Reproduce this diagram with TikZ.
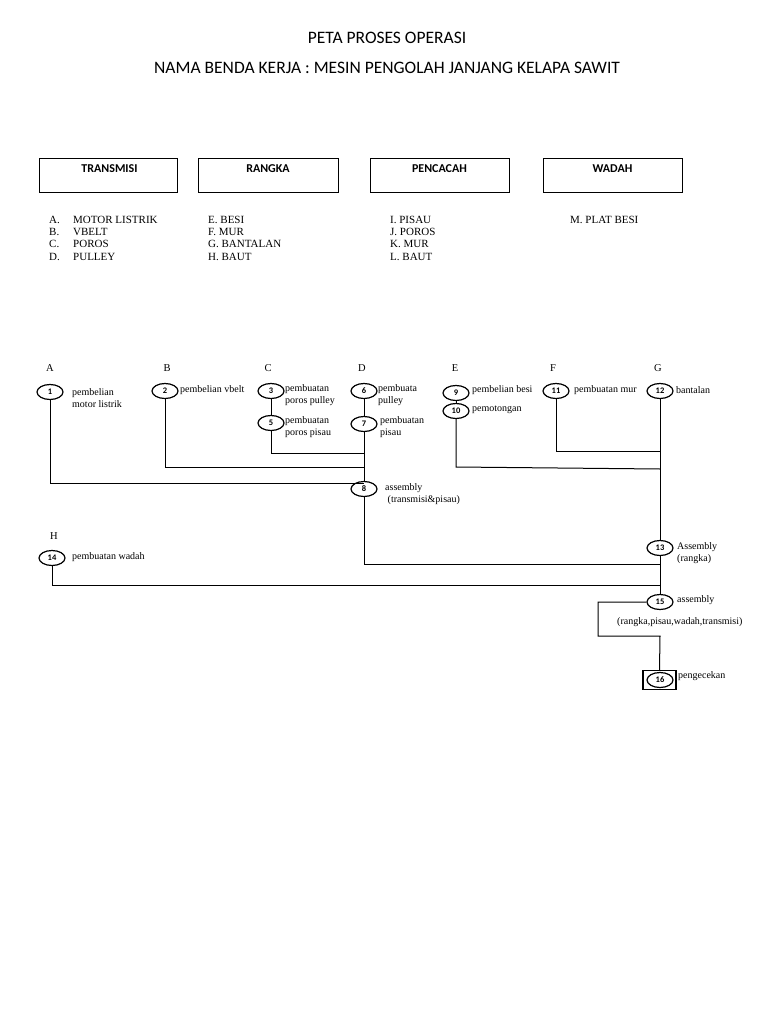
\documentclass[tikz,border=0pt]{standalone}
\usepackage{fontspec}
\setmainfont{Liberation Serif}
\newfontfamily\carl{Carlito}
\usetikzlibrary{shapes.geometric}
\begin{document}
\begin{tikzpicture}[x=1pt,y=-1pt,
  title/.style={font=\carl\fontsize{17.5}{20}\selectfont, inner sep=0},
  hbox/.style={draw, line width=0.9pt, minimum height=34pt, inner sep=0},
  boxtxt/.style={font=\carl\bfseries\fontsize{12}{14}\selectfont, inner sep=0},
  lst/.style={font=\fontsize{11}{12}\selectfont, anchor=west, inner sep=0},
  let/.style={font=\fontsize{10.5}{12}\selectfont, inner sep=0},
  op/.style={draw, ellipse, line width=1.2pt, minimum width=26pt, minimum height=15pt, inner sep=0, font=\carl\bfseries\fontsize{8.5}{9}\selectfont},
  lbl/.style={font=\fontsize{10}{12.5}\selectfont, anchor=west, align=left, inner sep=0},
  ln/.style={line width=1pt}
]
\useasboundingbox (0,0) rectangle (768,1024);
\fill[white] (0,0) rectangle (768,1024);

\node[title] (t1) at (387,38) {PETA PROSES OPERASI};
\node[title] (t2) at (387,68) {NAMA BENDA KERJA : MESIN PENGOLAH JANJANG KELAPA SAWIT};

\node[hbox, minimum width=138pt] (b1) at (108.5,175) {};
\node[boxtxt] (b1t) at (109.5,169) {TRANSMISI};
\node[hbox, minimum width=140pt] (b2) at (268,175) {};
\node[boxtxt] (b2t) at (268,169) {RANGKA};
\node[hbox, minimum width=139pt] (b3) at (439.5,175) {};
\node[boxtxt] (b3t) at (439.5,169) {PENCACAH};
\node[hbox, minimum width=139pt] (b4) at (612.5,175) {};
\node[boxtxt] (b4t) at (612.5,169) {WADAH};

% lists
\node[lst] (la) at (49,220) {A.};
\node[lst] (lat) at (73,220) {MOTOR LISTRIK};
\node[lst] (lb) at (49,232) {B.};
\node[lst] (lbt) at (73,232) {VBELT};
\node[lst] (lc) at (49,244) {C.};
\node[lst] (lct) at (73,244) {POROS};
\node[lst] (ld) at (49,257) {D.};
\node[lst] (ldt) at (73,257) {PULLEY};
\node[lst] (le) at (208,220) {E. BESI};
\node[lst] (lf) at (208,232) {F. MUR};
\node[lst] (lg) at (208,244) {G. BANTALAN};
\node[lst] (lh) at (208,257) {H. BAUT};
\node[lst] (li) at (390,220) {I. PISAU};
\node[lst] (lj) at (390,232) {J. POROS};
\node[lst] (lk) at (390,244) {K. MUR};
\node[lst] (ll) at (390,257) {L. BAUT};
\node[lst] (lm) at (570,220) {M. PLAT BESI};

% column letters
\node[let] (cA) at (50,368) {A};
\node[let] (cB) at (167,368) {B};
\node[let] (cC) at (268,368) {C};
\node[let] (cD) at (362,368) {D};
\node[let] (cE) at (455,368) {E};
\node[let] (cF) at (553,368) {F};
\node[let] (cG) at (658,368) {G};
\node[let] (cH) at (54,536) {H};

% operations
\node[op] (n1) at (50,392) {1};
\node[op] (n2) at (165,391) {2};
\node[op] (n3) at (271,391) {3};
\node[op] (n5) at (271,423) {5};
\node[op] (n6) at (364,391) {6};
\node[op] (n7) at (364,424) {7};
\node[op] (n8) at (364,489) {8};
\node[op] (n9) at (456,393) {9};
\node[op] (n10) at (456,411) {10};
\node[op] (n11) at (556,391) {11};
\node[op] (n12) at (660,391) {12};
\node[op] (n13) at (660,548) {13};
\node[op] (n14) at (52,558) {14};
\node[op] (n15) at (660,602) {15};
\node[op] (n16) at (660,680) {16};
\node[draw, line width=1.1pt, minimum width=33pt, minimum height=19pt, inner sep=0] (bx16) at (659.5,680) {};

% labels
\node[lbl] (l1) at (72,398) {pembelian\\motor listrik};
\node[lbl] (l2) at (180,390) {pembelian vbelt};
\node[lbl] (l3) at (285,395) {pembuatan\\poros pulley};
\node[lbl] (l5) at (285,427) {pembuatan\\poros pisau};
\node[lbl] (l6) at (378,395) {pembuata\\pulley};
\node[lbl] (l7) at (380,427) {pembuatan\\pisau};
\node[lbl] (l9) at (472,390) {pembelian besi};
\node[lbl] (l10) at (472,410) {pemotongan};
\node[lbl] (l11) at (574,390) {pembuatan mur};
\node[lbl] (l12) at (676,390) {bantalan};
\node[lbl] (l8) at (385,494) {assembly\\\ (transmisi\&pisau)};
\node[lbl] (l13) at (677,553) {Assembly\\(rangka)};
\node[lbl] (l14) at (72,557) {pembuatan wadah};
\node[lbl] (l15) at (677,600) {assembly};
\node[lbl] (l15b) at (617,622) {(rangka,pisau,wadah,transmisi)};
\node[lbl] (l16) at (678,676) {pengecekan};

% junction coordinates
\coordinate (j5) at (364,453);
\coordinate (j2) at (364,467);
\coordinate (j1) at (364,483);
\coordinate (j11) at (660,451);
\coordinate (j10) at (660,469);
\coordinate (j8) at (660,564);
\coordinate (j14) at (660,585);
\coordinate (k1) at (598,602);
\coordinate (k2) at (598,636);
\coordinate (k3) at (660,636);

% connectors
\draw[ln] (n3) -- (n5);
\draw[ln] (n6) -- (n7) -- (n8);
\draw[ln] (n9) -- (n10);
\draw[ln] (n12) -- (n13) -- (n15);
\draw[ln] (n5.south) |- (j5);
\draw[ln] (n2.south) |- (j2);
\draw[ln] (n1.south) |- (j1);
\draw[ln] (n11.south) |- (j11);
\draw[ln] (n10.south) -- (456,467) -- (j10);
\draw[ln] (n8.south) |- (j8);
\draw[ln] (n14.south) |- (j14);
\draw[ln] (n15.west) -- (k1) -- (k2) -- (k3) -- (bx16.north);
\end{tikzpicture}
\end{document}
